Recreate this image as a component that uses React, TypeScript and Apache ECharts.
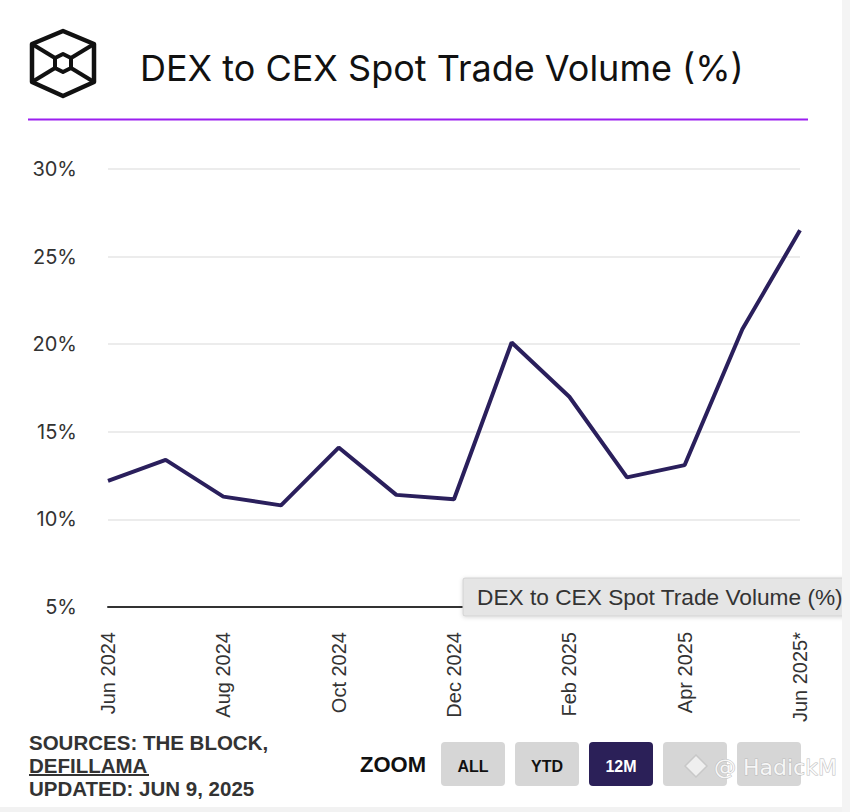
import React, { useEffect, useRef } from "react";
import * as echarts from "echarts";

const months = [
  "Jun 2024", "Jul 2024", "Aug 2024", "Sep 2024", "Oct 2024", "Nov 2024", "Dec 2024",
  "Jan 2025", "Feb 2025", "Mar 2025", "Apr 2025", "May 2025", "Jun 2025*",
];
const dexToCexPct = [12.2, 13.4, 11.3, 10.8, 14.1, 11.4, 11.15, 20.1, 17.0, 12.4, 13.1, 20.85, 26.5];
const yTicks = { min: 5, max: 30, interval: 5 };
const titleText = "DEX to CEX Spot Trade Volume (%)";
const seriesName = "DEX to CEX Spot Trade Volume (%)";
const sourceLines = ["SOURCES: THE BLOCK,", "DEFILLAMA", "UPDATED: JUN 9, 2025"];
const zoomButtons = ["ALL", "YTD", "12M", "", ""];
const activeZoom = "12M";

export default function App() {
  const ref = useRef<HTMLDivElement>(null);
  useEffect(() => {
    if (!ref.current) return;
    const chart = echarts.init(ref.current, null, { renderer: "svg" });
    const ink = "#111111";
    const graphic: any[] = [
      // logo
      {
        type: "polygon",
        shape: { points: [[63, 31], [94, 44], [94, 82], [63, 96], [32, 82], [32, 44]] },
        style: { fill: "none", stroke: ink, lineWidth: 4.5, lineJoin: "round" },
      },
      {
        type: "polygon",
        shape: { points: [[63, 54], [71, 58], [71, 68], [63, 72], [55, 68], [55, 58]] },
        style: { fill: "none", stroke: ink, lineWidth: 4, lineJoin: "round" },
      },
      { type: "line", shape: { x1: 32, y1: 44, x2: 55, y2: 58 }, style: { stroke: ink, lineWidth: 4 } },
      { type: "line", shape: { x1: 94, y1: 44, x2: 71, y2: 58 }, style: { stroke: ink, lineWidth: 4 } },
      { type: "line", shape: { x1: 32, y1: 82, x2: 55, y2: 68 }, style: { stroke: ink, lineWidth: 4 } },
      { type: "line", shape: { x1: 94, y1: 82, x2: 71, y2: 68 }, style: { stroke: ink, lineWidth: 4 } },
      // title
      {
        type: "text", x: 140, y: 68,
        style: { text: titleText, fontSize: 36, fontFamily: "Inter", fill: ink, fontWeight: 400, verticalAlign: "middle" },
      },
      // purple rule
      { type: "rect", shape: { x: 28, y: 118.5, width: 780, height: 2 }, style: { fill: "#9b1ff0" } },
      // hover label box
      {
        type: "rect", shape: { x: 463, y: 578, width: 400, height: 38, r: 2 },
        style: { fill: "#e5e5e5", stroke: "#d2d2d2", lineWidth: 1, shadowBlur: 4, shadowColor: "rgba(0,0,0,0.15)", shadowOffsetY: 1 },
        z: 10,
      },
      {
        type: "text", x: 477, y: 597, z: 11,
        style: { text: seriesName, fontSize: 22.7, fontFamily: "Liberation Sans", fill: "#333", verticalAlign: "middle" },
      },
      // source text
      ...sourceLines.map((t, i) => ({
        type: "text", x: 29, y: 742 + i * 23,
        style: { text: t, fontSize: 20.5, fontWeight: "bold", fontFamily: "Liberation Sans", fill: "#333", verticalAlign: "middle" },
      })),
      { type: "rect", shape: { x: 29, y: 774, width: 120, height: 2 }, style: { fill: "#333" } },
      // zoom label
      {
        type: "text", x: 360, y: 764,
        style: { text: "ZOOM", fontSize: 22, fontWeight: "bold", fontFamily: "Liberation Sans", fill: ink, verticalAlign: "middle" },
      },
      ...zoomButtons.flatMap((b, i) => {
        const x = 441 + i * 74;
        const active = b === activeZoom;
        return [
          { type: "rect", shape: { x, y: 742, width: 64, height: 44, r: 4 }, style: { fill: active ? "#2b2058" : "#d6d6d6" } },
          {
            type: "text", x: x + 32, y: 766,
            style: { text: b, fontSize: 16, fontWeight: "bold", fontFamily: "Liberation Sans", fill: active ? "#fff" : ink, align: "center", verticalAlign: "middle" },
          },
        ];
      }),
      // right and bottom page strips
      { type: "rect", shape: { x: 842, y: 0, width: 8, height: 812 }, style: { fill: "#f4f4f4" }, z: 12 },
      { type: "rect", shape: { x: 0, y: 807, width: 842, height: 5 }, style: { fill: "#f2f2f2" } },
      // watermark
      {
        type: "polygon", z: 13,
        shape: { points: [[696, 755], [707, 766], [696, 777], [685, 766]] },
        style: { fill: "rgba(255,255,255,0.6)", stroke: "#c8c8c8", lineWidth: 1.5 },
      },
      {
        type: "text", x: 714, y: 767, z: 13,
        style: { text: "@ HadickM", fontSize: 22, fontFamily: "DejaVu Sans", fill: "rgba(255,255,255,0.85)", stroke: "#bdbdbd", lineWidth: 1, verticalAlign: "middle" },
      },
    ];

    chart.setOption({
      animation: false,
      backgroundColor: "#ffffff",
      grid: { left: 108, right: 50, top: 169, bottom: 205, containLabel: false },
      xAxis: {
        type: "category",
        data: months,
        boundaryGap: false,
        axisLine: { show: true, lineStyle: { color: "#333", width: 2 } },
        axisTick: { show: false },
        axisLabel: {
          interval: 1, rotate: 90, margin: 25, fontSize: 20,
          fontFamily: "Liberation Sans", color: "#333",
        },
        splitLine: { show: false },
      },
      yAxis: {
        type: "value",
        min: yTicks.min, max: yTicks.max, interval: yTicks.interval,
        axisLine: { show: false },
        axisTick: { show: false },
        axisLabel: { formatter: "{value}%", margin: 31, fontSize: 20, fontFamily: "Inter", color: "#333" },
        splitLine: { lineStyle: { color: "#ececec", width: 2 } },
      },
      series: [
        {
          name: seriesName,
          type: "line",
          data: dexToCexPct,
          showSymbol: false,
          lineStyle: { color: "#2a1f5c", width: 4 },
          itemStyle: { color: "#2a1f5c" },
        },
      ],
      graphic,
    });
    return () => chart.dispose();
  }, []);
  return (
    <div
      ref={ref}
      style={{ position: "fixed", left: 0, top: 0, width: 850, height: 812, background: "#fff" }}
    />
  );
}
